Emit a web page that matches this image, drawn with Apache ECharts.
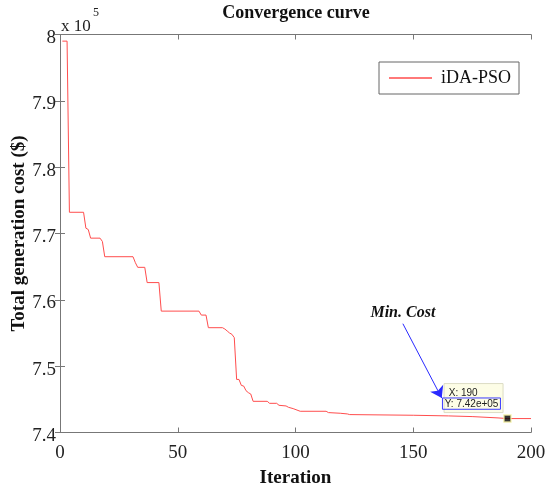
<!DOCTYPE html>
<html><head><meta charset="utf-8">
<script src="https://cdn.jsdelivr.net/npm/echarts@6/dist/echarts.min.js"></script>
<style>html,body{margin:0;padding:0;background:#fff}#c{width:550px;height:486px}</style>
</head><body><div id="c"></div>
<script>
// Convergence data (iteration breakpoints and total generation cost in $)
const iterations = [1,3,4,10,11,12,13,17,18,19,31,32,33,36,37,42,43,59,60,62,63,69,70,71,72,73,74,75,76,77,78,79,80,81,82,88,89,92,93,96,97,99,102,113,114,119,122,123,150,165,175,186,190,200];
const costs = [799000,799000,773200,773200,770800,770600,769300,769300,768800,766500,766500,765600,764900,764900,762600,762600,758300,758300,757700,757700,755800,755800,755600,755300,755000,754800,754300,748000,748000,747100,747000,746300,746000,745800,744700,744700,744400,744400,744100,744000,743800,743600,743200,743200,743000,742900,742800,742700,742600,742500,742400,742200,742100,742100];
const minIter = [190];
const minCost = [742100];
const xTicks = [0, 50, 100, 150, 200];
const yTicks = [740000, 750000, 760000, 770000, 780000, 790000, 800000];
const seriesName = 'iDA-PSO';
// annotation anchor points (data space)
const arrowFrom = [145.6, 756400];
const arrowTo = [162.1, 745200];
const labelAt = [145.6, 758000];

const SERIF = '"Liberation Serif", "DejaVu Serif", serif';
const AXC = '#777';
const chart = echarts.init(document.getElementById('c'), null, {renderer: 'canvas'});
const lineData = iterations.map((it, i) => [it, costs[i]]);
const minData = minIter.map((it, i) => [it, minCost[i]]);
const fmtY = v => (v === 800000 ? '8' : (v / 1e5).toFixed(1));

const commonX = {
  type: 'value', min: xTicks[0], max: xTicks[xTicks.length - 1], interval: xTicks[1] - xTicks[0],
  axisLine: {lineStyle: {color: AXC, width: 1}},
  axisTick: {inside: true, length: 5, lineStyle: {color: AXC}},
  splitLine: {show: false}
};
const commonY = {
  type: 'value', min: yTicks[0], max: yTicks[yTicks.length - 1], interval: yTicks[1] - yTicks[0],
  axisLine: {lineStyle: {color: AXC, width: 1}},
  axisTick: {inside: true, length: 5, lineStyle: {color: AXC}},
  splitLine: {show: false}
};

chart.setOption({
  animation: false,
  backgroundColor: '#fff',
  title: {
    text: 'Convergence curve', left: 296, top: 4, padding: 0, textAlign: 'center',
    textStyle: {fontFamily: SERIF, fontWeight: 'bold', fontSize: 18, color: '#111'}
  },
  grid: {left: 60, right: 19, top: 34.5, bottom: 53.5, containLabel: false, outerBoundsMode: 'none'},
  legend: {
    data: [{name: seriesName, icon: 'rect'}], left: 379, top: 62,
    padding: [7, 8, 7, 10], itemWidth: 43, itemHeight: 1.5,
    borderColor: '#666', borderWidth: 1, backgroundColor: '#fff',
    textStyle: {fontFamily: SERIF, fontSize: 18, color: '#111', padding: [0, 0, 0, 4]}
  },
  xAxis: [
    Object.assign({}, commonX, {
      position: 'bottom',
      axisLabel: {color: '#222', fontFamily: SERIF, fontSize: 19, margin: 11},
      name: 'Iteration', nameLocation: 'middle', nameGap: 36, nameMoveOverlap: false,
      nameTextStyle: {fontFamily: SERIF, fontWeight: 'bold', fontSize: 19, color: '#111'}
    }),
    Object.assign({}, commonX, {position: 'top', axisLabel: {show: false}})
  ],
  yAxis: [
    Object.assign({}, commonY, {
      position: 'left',
      axisLabel: {color: '#222', fontFamily: SERIF, fontSize: 19, margin: 4, formatter: fmtY, verticalAlign: 'top', lineHeight: 7},
      name: 'Total generation cost ($)', nameLocation: 'middle', nameGap: 31, nameMoveOverlap: false,
      nameTextStyle: {fontFamily: SERIF, fontWeight: 'bold', fontSize: 19, color: '#111'}
    }),
    Object.assign({}, commonY, {position: 'right', axisLabel: {show: false}})
  ],
  series: [
    {
      name: seriesName, type: 'line', data: lineData, symbol: 'none',
      lineStyle: {color: '#ff4d4d', width: 1}, itemStyle: {color: '#ff4d4d'}
    },
    {
      name: 'min', type: 'scatter', data: minData, symbol: 'rect', symbolSize: 7, z: 5,
      itemStyle: {color: '#000', borderColor: '#f5f0a0', borderWidth: 1.5},
      markLine: {
        silent: true, symbol: ['none', 'arrow'], symbolSize: 11,
        label: {show: false}, lineStyle: {color: '#2a2aff', width: 1, type: 'solid'},
        data: [[{coord: arrowFrom}, {coord: arrowTo}]]
      }
    }
  ]
});

const pt = chart.convertToPixel({gridIndex: 0}, minData[0]);
const lp = chart.convertToPixel({gridIndex: 0}, labelAt);
const yTxt = 'Y: ' + minCost[0].toExponential(2).replace(/e\+(\d)$/, 'e+0$1');
chart.setOption({
  graphic: [
    {type: 'text', left: 61, top: 18, style: {text: 'x 10', font: '17px ' + SERIF, fill: '#222'}},
    {type: 'text', left: 93, top: 7, style: {text: '5', font: '12px ' + SERIF, fill: '#222'}},
    {type: 'text', x: lp[0], y: lp[1], style: {text: 'Min. Cost', font: 'italic bold 16px ' + SERIF, fill: '#111', textAlign: 'center', textVerticalAlign: 'middle'}},
    {type: 'rect', shape: {x: pt[0] - 63.4, y: pt[1] - 35, width: 59, height: 29}, style: {fill: '#fdfde6', stroke: '#dcdcc4', lineWidth: 1}, z: 10},
    {type: 'text', x: pt[0] - 58.7, y: pt[1] - 25, style: {text: 'X: ' + minIter[0], font: '10px "Liberation Sans", Arial, sans-serif', fill: '#222', textVerticalAlign: 'middle'}, z: 11},
    {type: 'text', x: pt[0] - 62.7, y: pt[1] - 14.3, style: {text: yTxt, font: '10px "Liberation Sans", Arial, sans-serif', fill: '#222', textVerticalAlign: 'middle'}, z: 11},
    {type: 'rect', shape: {x: pt[0] - 65, y: pt[1] - 20.6, width: 58, height: 11.3}, style: {fill: 'none', stroke: '#3b3bff', lineWidth: 1}, z: 12}
  ]
});
</script></body></html>
